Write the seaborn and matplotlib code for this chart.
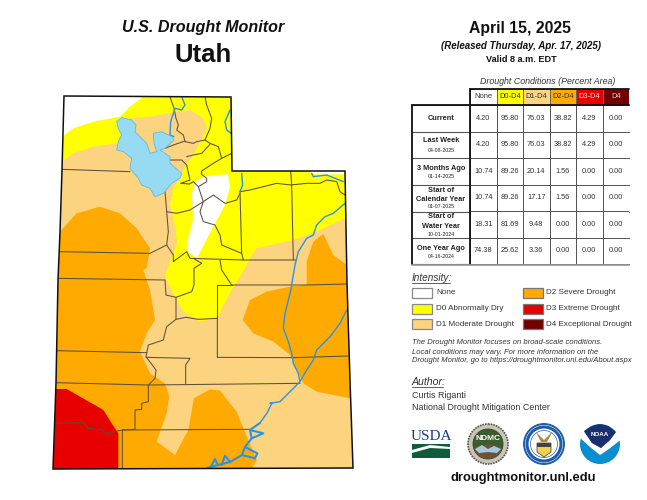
import numpy as np
import pandas as pd
import matplotlib
matplotlib.use("Agg")
import matplotlib.pyplot as plt
import seaborn as sns
from matplotlib.colors import ListedColormap
from matplotlib.patches import Circle, Polygon, Rectangle, Wedge

sns.set_theme(style="white")
plt.rcParams["font.family"] = ["Liberation Sans", "DejaVu Sans"]

# ---- table values
columns = ["None", "D0-D4", "D1-D4", "D2-D4", "D3-D4", "D4"]
periods = ["Current", "Last Week", "3 Months Ago", "Start of Calendar Year", "Start of Water Year", "One Year Ago"]
none_vals = [4.20, 4.20, 10.74, 10.74, 18.31, 74.38]
d0_vals = [95.80, 95.80, 89.26, 89.26, 81.69, 25.62]
d1_vals = [76.03, 76.03, 20.14, 17.17, 9.48, 3.36]
d2_vals = [38.82, 38.82, 1.56, 1.56, 0.00, 0.00]
d3_vals = [4.29, 4.29, 0.00, 0.00, 0.00, 0.00]
d4_vals = [0.00, 0.00, 0.00, 0.00, 0.00, 0.00]

# colours
C_NONE, C_D0, C_D1, C_D2, C_D3, C_D4 = "#ffffff", "#ffff00", "#fcd37f", "#ffaa00", "#e60000", "#730000"
C_LAKE, C_RIVER, C_COUNTY = "#97dbf2", "#2b93e6", "#5c5040"

# ---- map geometry
state = [(64, 96), (231, 97), (232, 171), (345, 171), (347, 283), (350, 380), (353, 468), (53, 469),
         (56, 383), (58, 280), (60, 232), (62, 170)]

yellow_area = [(30, 235), (40, 228), (70, 205), (130, 185), (200, 175), (230, 130), (240, 100), (300, 95),
               (355, 85), (420, 75), (460, 100), (470, 130), (450, 170), (430, 210), (405, 240), (395, 270),
               (370, 310), (360, 355), (375, 426), (381, 474), (345, 570), (350, 585), (375, 635), (400, 680),
               (450, 710), (500, 700), (545, 615), (582, 555), (600, 520), (620, 490), (730, 465), (800, 440),
               (885, 400), (900, 395), (900, 240), (550, 240), (550, 20), (30, 20)]
none_nw = [(30, 20), (280, 20), (280, 35), (240, 65), (210, 95), (130, 110), (70, 130), (30, 160)]
none_ne = [(780, 263), (790, 258), (890, 250), (890, 268), (800, 268)]
none_center = [(459, 276), (534, 267), (540, 306), (525, 360), (480, 444), (441, 519), (414, 501), (411, 474),
               (429, 405), (426, 324), (435, 291)]
orange_west = [(20, 445), (30, 440), (80, 385), (150, 365), (210, 385), (260, 430), (300, 490), (290, 550),
               (280, 555), (300, 615), (315, 705), (290, 745), (270, 800), (300, 865), (345, 895), (358, 935),
               (350, 985), (320, 1070), (375, 1110), (415, 1035), (432, 940), (480, 913), (510, 917), (560, 980),
               (590, 1055), (620, 1125), (590, 1180), (10, 1180)]
orange_east = [(900, 545), (890, 540), (850, 510), (820, 447), (790, 470), (770, 530), (770, 600), (720, 605),
               (650, 620), (600, 645), (578, 705), (610, 745), (670, 770), (720, 810), (760, 895), (800, 920),
               (900, 940), (920, 940)]
red_area = [(5, 912), (50, 912), (160, 975), (185, 1015), (205, 1045), (205, 1180), (5, 1180)]
lake = [(200, 110), (215, 98), (245, 105), (258, 120), (255, 140), (275, 160), (290, 175), (300, 205), (320, 200),
        (312, 175), (310, 145), (335, 140), (365, 155), (372, 165), (345, 190), (330, 195), (360, 215), (360, 235),
        (395, 265), (390, 280), (365, 295), (340, 325), (315, 335), (300, 310), (275, 300), (265, 280), (240, 250),
        (245, 220), (220, 200), (200, 195), (205, 170), (215, 150), (205, 130)]

county_lines = [
    [(360, 35), (372, 70), (378, 100), (385, 120), (380, 135), (400, 150), (405, 170), (430, 175), (440, 170), (465, 165)],
    [(465, 35), (470, 60), (485, 100), (480, 130), (465, 165), (480, 175), (505, 185), (515, 220), (545, 205)],
    [(345, 190), (370, 180), (405, 168)],
    [(358, 225), (395, 225), (410, 240), (420, 285), (392, 295), (418, 297)],
    [(37, 253), (240, 260)],
    [(410, 215), (430, 210), (455, 205), (480, 178)],
    [(515, 220), (490, 235), (455, 258), (455, 268), (470, 280), (470, 290), (445, 305), (430, 290), (418, 297)],
    [(445, 305), (460, 350), (450, 380), (460, 410), (495, 420), (510, 450), (515, 480), (575, 505)],
    [(570, 320), (600, 315), (680, 295), (722, 300), (770, 295), (810, 295), (830, 285), (860, 290), (870, 320), (885, 330)],
    [(722, 258), (725, 300), (730, 525)],
    [(570, 320), (575, 505), (580, 525)],
    [(345, 320), (350, 380), (355, 440), (350, 480), (370, 510), (370, 530), (410, 500), (420, 520), (580, 525), (740, 525)],
    [(350, 380), (380, 385), (420, 375), (460, 350), (490, 330), (525, 355), (560, 345), (570, 325)],
    [(30, 500), (300, 505), (350, 480)],
    [(25, 580), (345, 585), (348, 630), (378, 637), (425, 620), (432, 600), (432, 550), (455, 535), (430, 520)],
    [(510, 525), (515, 555), (545, 600), (770, 600), (890, 597)],
    [(502, 600), (545, 600)],
    [(378, 637), (378, 703), (350, 725), (340, 765), (295, 780), (288, 815), (318, 855), (315, 880), (295, 900),
     (295, 950), (275, 955), (275, 973), (255, 975), (255, 1033), (217, 1035), (217, 1150)],
    [(378, 703), (408, 697), (445, 703), (502, 700), (502, 817)],
    [(502, 600), (502, 700)],
    [(20, 797), (290, 803)],
    [(17, 893), (295, 900), (750, 895)],
    [(12, 1015), (100, 1013), (115, 1030), (155, 1035), (170, 1045), (217, 1035), (600, 1033)],
    [(288, 817), (420, 820), (407, 840), (407, 897)],
    [(502, 817), (730, 818), (895, 813)],
]
rivers = [
    [(885, 355), (850, 385), (825, 395), (800, 420), (790, 450), (770, 460), (745, 500), (735, 540), (725, 600),
     (725, 605), (715, 645), (705, 685), (700, 730), (715, 770), (725, 805), (730, 835), (745, 865), (750, 890)],
    [(890, 675), (870, 715), (840, 755), (800, 795), (790, 825), (770, 855), (750, 890), (720, 920), (690, 950),
     (660, 955), (666, 954), (651, 984), (630, 1014)],
    [(575, 265), (578, 300), (570, 320)],
    [(785, 265), (790, 275), (830, 270), (880, 290)],
    [(395, 35), (405, 60), (395, 75), (375, 70), (362, 110), (360, 150), (372, 155)],
    [(540, 75), (525, 110), (530, 135), (543, 145)],
]
powell = [
    [(630, 1014), (600, 1035), (605, 1060), (585, 1086), (576, 1110), (540, 1131), (504, 1140), (471, 1149)],
    [(600, 1035), (640, 1045), (605, 1060)],
    [(585, 1086), (622, 1105), (615, 1120), (576, 1110)],
    [(540, 1131), (525, 1112), (515, 1140)],
    [(504, 1140), (495, 1122), (482, 1146)],
]

# ---- table/legend layout (px)
TOP, PX_W, PX_H = 89, 647, 500
col_edges = [470, 497, 523, 550, 577, 603, 629]
row_edges = [105, 132, 158, 185, 212, 238, 264]


def to_px(pts):
    # crop coords, origin 50,85 at 3x
    return [(50 + x / 3, 85 + y / 3) for x, y in pts]


def add_axes_px(l, t, r, b):
    return fig.add_axes([l / PX_W, 1 - b / PX_H, (r - l) / PX_W, (b - t) / PX_H])


fig = plt.figure(figsize=(6.47, 5), dpi=100, facecolor="white")
ax = fig.add_axes([0, 0, 1, 1])
ax.set_xlim(0, PX_W)
ax.set_ylim(PX_H, 0)
ax.axis("off")

# ---- map
outline = Polygon(state, closed=True, fc=C_D1, ec="none", zorder=1)
ax.add_patch(outline)
for pts, colour in [(yellow_area, C_D0), (none_nw, C_NONE), (none_ne, C_NONE), (none_center, C_NONE),
                    (orange_west, C_D2), (orange_east, C_D2), (red_area, C_D3)]:
    p = Polygon(to_px(pts), closed=True, fc=colour, ec="none", zorder=2)
    ax.add_patch(p)
    p.set_clip_path(outline)

for line in county_lines:
    xy = np.array(to_px(line))
    ax.plot(xy[:, 0], xy[:, 1], color=C_COUNTY, lw=0.75, zorder=3, clip_path=outline)
for line in rivers:
    xy = np.array(to_px(line))
    ax.plot(xy[:, 0], xy[:, 1], color=C_RIVER, lw=1.0, zorder=4, clip_path=outline)
for line in powell:
    xy = np.array(to_px(line))
    ax.plot(xy[:, 0], xy[:, 1], color=C_RIVER, lw=1.5, zorder=4, clip_path=outline)
ax.add_patch(Polygon(to_px(lake), closed=True, fc=C_LAKE, ec="#5fb8e8", lw=0.6, zorder=5))
ax.add_patch(Polygon(state, closed=True, fc="none", ec="#111111", lw=1.1, zorder=6))

# ---- titles
ax.text(203.5, 27.5, "U.S. Drought Monitor", ha="center", va="center", fontsize=11.6, fontweight="bold", style="italic", color="#111111")
ax.text(203, 55, "Utah", ha="center", va="center", fontsize=18.5, fontweight="bold", color="#111111")
ax.text(520, 29, "April 15, 2025", ha="center", va="center", fontsize=11.3, fontweight="bold", color="#111111")
ax.text(521, 46, "(Released Thursday, Apr. 17, 2025)", ha="center", va="center", fontsize=7, fontweight="bold", style="italic", color="#111111")
ax.text(521, 60, "Valid 8 a.m. EDT", ha="center", va="center", fontsize=6.6, fontweight="bold", color="#111111")
ax.text(548, 81, "Drought Conditions (Percent Area)", ha="center", va="center", fontsize=6.4, style="italic", color="#333333")

# ---- table with heatmaps
header_ax = add_axes_px(col_edges[0], TOP, col_edges[-1], row_edges[0])
header_colours = [C_NONE, C_D0, C_D1, C_D2, C_D3, C_D4]
sns.heatmap(np.arange(6).reshape(1, 6), ax=header_ax, cmap=ListedColormap(header_colours), cbar=False,
            annot=np.array([columns]), fmt="", linewidths=0.6, linecolor="#666666",
            xticklabels=False, yticklabels=False, annot_kws={"fontsize": 5.4})
for txt, colour in zip(header_ax.texts, ["#333333", "#333333", "#333333", "#333333", "#fbe0e0", "#e8c8c8"]):
    txt.set_color(colour)

table = pd.DataFrame({"None": none_vals, "D0-D4": d0_vals, "D1-D4": d1_vals,
                      "D2-D4": d2_vals, "D3-D4": d3_vals, "D4": d4_vals}, index=periods)
body_ax = add_axes_px(col_edges[0], row_edges[0], col_edges[-1], row_edges[-1])
sns.heatmap(table, ax=body_ax, cmap=ListedColormap(["white"]), cbar=False, annot=True, fmt=".2f",
            linewidths=0.6, linecolor="#555555", xticklabels=False, yticklabels=False,
            annot_kws={"fontsize": 5.3, "color": "#333333"})
for a in (header_ax, body_ax):
    a.tick_params(length=0)
    a.set_xlabel("")
    a.set_ylabel("")

for y in row_edges:
    ax.plot([412, 629], [y, y], color="#555555", lw=0.8, zorder=3)
top_lines = [([412, 629], [row_edges[0], row_edges[0]]), ([412, 412], [row_edges[0], row_edges[-1]]),
             ([470, 470], [TOP, row_edges[-1]]), ([470, 629], [TOP, TOP])]
frame_ax = fig.add_axes([0, 0, 1, 1], facecolor="none")
frame_ax.set_xlim(0, PX_W)
frame_ax.set_ylim(PX_H, 0)
frame_ax.axis("off")
for xs, ys in top_lines:
    frame_ax.plot(xs, ys, color="#111111", lw=1.3)
frame_ax.plot([412, 629], [row_edges[-1] + 1, row_edges[-1] + 1], color="#999999", lw=1.2)

row_text = [
    ("Current", 118, True), ("Last Week", 141, True), ("04-08-2025", 151, False),
    ("3 Months Ago", 168, True), ("01-14-2025", 177, False),
    ("Start of", 191, True), ("Calendar Year", 199.5, True), ("01-07-2025", 206.5, False),
    ("Start of", 217, True), ("Water Year", 226, True), ("10-01-2024", 234, False),
    ("One Year Ago", 248, True), ("04-16-2024", 257, False),
]
for label, y, is_bold in row_text:
    ax.text(441, y, label, ha="center", va="center", fontsize=5.3 if is_bold else 3.8,
            fontweight="bold" if is_bold else "normal", color="#222222")

# ---- legend
ax.text(412, 278, "Intensity:", ha="left", va="center", fontsize=7.2, style="italic", color="#333333")
ax.plot([412, 450], [283, 283], color="#444444", lw=0.6)
left_items = [("None", C_NONE), ("D0 Abnormally Dry", C_D0), ("D1 Moderate Drought", C_D1)]
right_items = [("D2 Severe Drought", C_D2), ("D3 Extreme Drought", C_D3), ("D4 Exceptional Drought", C_D4)]
for i, y in enumerate([293, 309, 324]):
    ax.add_patch(Rectangle((412, y - 5), 20, 10, fc=left_items[i][1], ec="#888888", lw=0.9))
    ax.text(436, y, left_items[i][0], ha="left", va="center", fontsize=5.85, color="#333333")
    ax.add_patch(Rectangle((523, y - 5), 20, 10, fc=right_items[i][1], ec="#777777", lw=0.9))
    ax.text(546, y, right_items[i][0], ha="left", va="center", fontsize=5.85, color="#333333")

notes = ["The Drought Monitor focuses on broad-scale conditions.",
         "Local conditions may vary. For more information on the",
         "Drought Monitor, go to https://droughtmonitor.unl.edu/About.aspx"]
for y, line in zip([343, 352, 361], notes):
    ax.text(412, y, line, ha="left", va="center", fontsize=5.5, style="italic", color="#333333")

ax.text(412, 382, "Author:", ha="left", va="center", fontsize=7.6, style="italic", color="#333333")
ax.plot([412, 443], [387, 387], color="#444444", lw=0.6)
ax.text(412, 395, "Curtis Riganti", ha="left", va="center", fontsize=6.4, color="#333333")
ax.text(412, 407, "National Drought Mitigation Center", ha="left", va="center", fontsize=6.4, color="#333333")

# ---- logos
ax.text(431, 437, "USDA", ha="center", va="center", fontsize=11, family="Liberation Serif", color="#1c3f7c")
ax.add_patch(Rectangle((412, 444), 38, 14, fc="#0f5b3c", ec="none"))
ax.add_patch(Polygon([(412, 450), (430, 445), (450, 447), (450, 449), (430, 448), (412, 453)], fc="white", ec="none"))

ax.add_patch(Circle((488, 444), 20, fc="#c9c4b8", ec="#55504a", lw=1.2, ls=(0, (1, 0.6))))
ax.add_patch(Circle((488, 444), 15, fc="#3d5c2c", ec="#33412a", lw=0.6))
ax.add_patch(Wedge((488, 444), 15, 15, 165, fc="#6b5237", ec="none"))
ax.add_patch(Polygon([(475, 449), (482, 445), (488, 449), (494, 446), (501, 449), (497, 453), (488, 452), (479, 453)], fc="#a6c8dc", ec="none"))
ax.text(488, 439, "NDMC", ha="center", va="center", fontsize=6, fontweight="bold", color="white")

ax.add_patch(Circle((544, 444), 20, fc="white", ec="#1f5ca8", lw=1.4))
ax.add_patch(Circle((544, 444), 17, fc="none", ec="#1f5ca8", lw=2.2))
ax.add_patch(Circle((544, 444), 13.5, fc="white", ec="#1f5ca8", lw=0.5))
ax.add_patch(Polygon([(537, 443), (551, 443), (551, 452), (544, 457), (537, 452)], fc="#f2d24a", ec="#333333", lw=0.5))
ax.add_patch(Rectangle((537, 443), 14, 4, fc="#444444", ec="none"))
ax.add_patch(Polygon([(536, 432), (544, 440), (553, 431), (547, 442), (541, 442)], fc="#b08a30", ec="none"))

# NOAA: blue disc, navy cap, white gull between them
ax.add_patch(Circle((600, 444), 20, fc="#0a8ed0", ec="none"))
ax.add_patch(Polygon([(578, 436), (590, 447), (600, 455), (609, 449), (623, 438), (618, 428), (610, 440), (601, 448),
                      (592, 443), (583, 430)], fc="white", ec="none"))
ax.add_patch(Polygon([(584, 431), (592, 426), (600, 424), (608, 426), (616, 432), (610, 440), (601, 448), (592, 443)],
                     fc="#1b2f6e", ec="none"))
ax.text(600, 434, "NOAA", ha="center", va="center", fontsize=4.5, fontweight="bold", color="white")

ax.text(523, 478, "droughtmonitor.unl.edu", ha="center", va="center", fontsize=9.4, fontweight="bold", color="#111111")

fig.savefig("out.png", dpi=100, facecolor="white")
